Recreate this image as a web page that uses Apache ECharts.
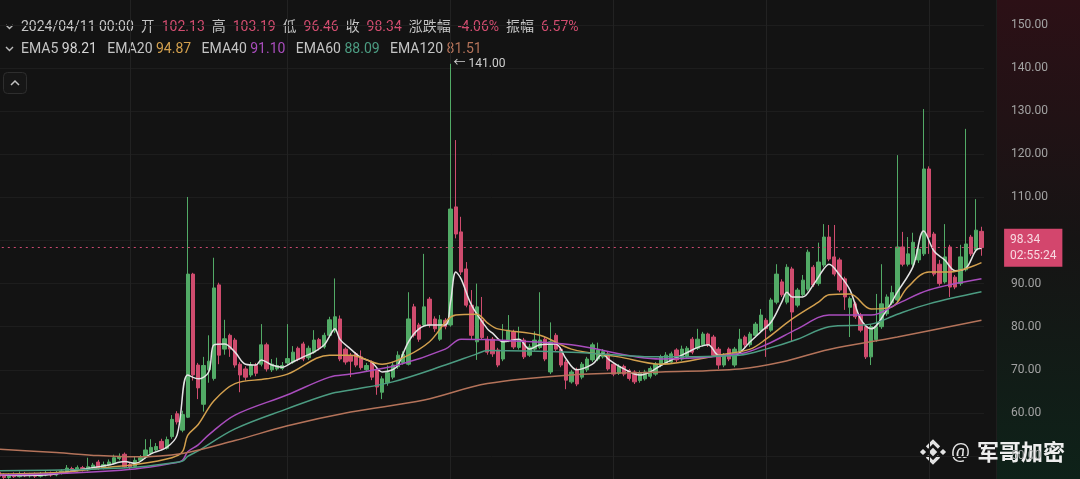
<!DOCTYPE html>
<html><head><meta charset="utf-8">
<script src="https://cdn.jsdelivr.net/npm/echarts@6/dist/echarts.min.js"></script>
<style>html,body{margin:0;padding:0;background:#131313;}#c{width:1080px;height:479px;}</style>
</head><body><div id="c"></div>
<script>
// ---------- DATA ----------
const startDate = [2023, 10, 7];          // first daily candle (y, m, d)
// [open, close, low, high]
const candles = [
[46.2,45.3,44.8,46.6],[45.6,45.0,44.6,46.0],[45.0,45.6,44.7,46.0],[45.7,45.2,44.9,46.2],[45.2,45.9,45.0,46.4],
[45.9,45.4,45.1,46.3],[45.4,45.8,45.0,46.1],[45.8,45.3,44.9,46.2],[45.3,45.7,45.0,46.3],[45.6,46.0,45.3,46.5],
[46.0,45.6,45.2,46.4],[45.6,46.1,45.3,46.5],[46.0,46.5,45.7,46.9],[46.4,47.2,46.2,47.9],[47.1,46.6,46.2,47.5],
[46.6,47.3,46.4,47.8],[47.3,46.8,46.4,47.7],[46.8,47.5,46.5,49.6],[47.4,47.9,47.0,48.4],[48.6,47.1,46.8,49.1],
[47.2,48.0,46.9,48.7],[47.9,48.6,47.6,49.2],[48.3,49.6,48.0,50.3],[49.4,49.9,49.0,50.6],[50.4,47.5,47.2,50.8],
[48.0,47.3,46.9,48.6],[47.6,49.0,47.3,49.8],[49.0,49.6,48.6,50.2],[49.7,51.4,49.4,53.9],[50.6,52.0,50.2,53.9],
[51.4,52.2,51.0,53.0],[53.4,51.7,51.3,54.0],[51.8,53.8,51.5,54.5],[54.5,58.5,54.0,59.5],[59.8,57.9,57.3,60.4],
[56.0,59.6,55.5,60.5],[59.0,92.2,58.8,110.1],[92.2,68.8,67.5,92.5],[71.1,65.8,63.2,71.6],[62.0,71.0,60.3,73.0],
[70.0,72.0,67.0,78.0],[68.0,89.0,67.5,96.0],[89.7,73.4,71.3,90.2],[74.8,77.2,73.5,81.6],[78.0,74.8,73.0,78.4],
[76.9,71.1,70.5,77.4],[71.3,68.8,64.8,71.8],[70.2,68.3,67.5,70.8],[68.8,71.1,68.3,71.8],[71.0,69.2,68.5,71.6],
[71.3,75.8,70.8,80.6],[75.8,70.2,69.6,76.3],[70.0,71.3,69.5,72.5],[70.2,71.0,69.8,72.8],[70.3,71.0,69.9,71.8],
[71.6,72.6,71.2,80.6],[71.8,74.1,71.4,75.5],[75.0,72.4,72.0,75.4],[76.0,72.5,72.0,76.5],[72.8,75.0,72.3,75.6],
[74.1,76.9,73.7,79.2],[77.0,75.0,74.5,77.4],[75.3,78.0,74.9,78.6],[78.0,81.6,77.5,82.3],[79.0,82.3,78.5,91.2],
[81.8,72.5,72.0,82.6],[74.8,71.8,71.2,75.2],[73.3,72.0,68.3,73.9],[73.7,71.1,70.6,74.1],[73.0,70.5,70.0,74.5],
[70.0,71.0,69.5,71.6],[71.8,68.3,67.6,72.2],[70.0,66.0,64.2,70.4],[64.8,67.9,63.2,68.5],[67.0,69.3,66.3,71.0],
[68.3,71.1,67.8,71.7],[70.7,73.4,70.2,74.3],[71.7,73.6,71.2,74.3],[71.3,81.8,71.0,88.0],[84.6,78.0,77.5,85.3],
[80.4,77.1,76.5,80.9],[80.4,84.6,80.0,96.9],[86.4,80.4,79.8,86.9],[81.8,79.5,78.8,82.4],[77.1,81.6,76.7,82.7],
[81.5,80.0,79.4,82.0],[80.4,107.3,80.0,141.0],[107.8,101.5,100.5,123.3],[102.0,92.7,92.0,105.5],[93.4,85.0,84.5,95.0],
[85.0,78.0,77.0,88.5],[76.5,84.6,72.3,90.0],[81.5,77.5,77.0,86.9],[77.1,74.1,73.5,77.8],[77.1,73.7,73.0,77.6],
[74.6,71.1,70.6,75.1],[72.5,76.5,72.0,80.6],[76.9,79.2,76.4,82.7],[78.8,75.3,74.8,79.3],[75.2,77.0,74.7,80.0],
[76.9,73.0,72.5,77.4],[73.4,75.3,73.0,76.0],[74.8,76.9,74.4,78.9],[75.2,76.9,74.8,88.0],[77.1,72.5,72.0,77.6],
[69.5,76.5,69.0,81.0],[78.0,74.8,74.3,78.5],[74.8,71.1,70.6,75.3],[71.8,67.6,65.5,72.3],[67.2,69.5,66.8,70.0],
[70.0,66.7,66.2,70.5],[68.3,71.3,67.8,71.8],[70.0,72.5,69.5,73.0],[72.3,75.8,71.8,76.3],[72.5,74.6,72.0,76.3],
[73.0,74.2,72.6,74.8],[73.7,70.2,69.8,74.2],[71.3,69.0,68.5,71.8],[69.2,70.8,68.8,71.3],[70.8,69.0,68.5,71.2],
[69.8,68.0,67.5,70.2],[69.5,67.2,66.7,69.9],[67.5,69.3,67.0,69.8],[67.9,69.5,67.5,70.0],[68.5,70.3,68.0,70.8],
[69.0,71.3,68.6,71.8],[71.1,73.0,70.6,73.5],[71.6,73.4,71.2,74.1],[71.8,73.7,71.4,74.2],[74.6,72.3,71.8,75.0],
[72.5,74.8,72.1,75.6],[73.0,75.0,72.6,75.5],[77.1,74.1,73.6,77.6],[75.0,77.1,74.6,79.5],[75.8,78.3,75.4,78.8],
[78.3,75.8,75.3,78.6],[77.6,73.4,73.0,78.1],[74.8,71.1,70.2,75.3],[71.1,73.4,70.6,73.9],[74.8,72.5,72.0,75.2],
[71.1,74.8,70.6,75.3],[74.1,77.1,73.7,79.5],[77.6,75.8,75.3,78.0],[75.8,78.3,75.3,78.8],[78.0,80.6,77.5,81.1],
[79.0,82.7,78.6,84.1],[81.5,79.6,73.0,82.0],[79.2,86.2,78.8,86.7],[85.7,92.2,85.2,94.5],[90.4,87.4,86.9,91.0],
[85.7,93.8,85.2,94.5],[93.4,83.4,76.5,93.9],[85.0,88.5,84.5,89.0],[87.4,90.8,87.0,92.0],[88.7,97.3,88.2,97.9],
[93.8,89.7,89.2,94.3],[90.0,95.0,89.5,99.5],[94.3,100.8,93.8,103.8],[100.8,95.7,95.2,103.6],[96.2,92.2,91.7,103.6],
[95.5,88.5,88.0,96.0],[91.1,86.9,83.9,91.6],[84.5,86.5,77.6,87.0],[85.3,82.3,81.8,85.8],[82.7,79.2,78.7,83.2],
[80.0,73.0,72.5,80.5],[73.0,80.0,71.1,80.6],[77.0,80.0,76.5,87.6],[80.0,85.3,79.5,94.5],[83.0,86.9,82.5,87.5],
[85.5,87.9,85.0,89.5],[86.2,98.5,85.8,119.8],[98.5,94.5,94.0,102.0],[94.5,96.9,94.0,100.8],[94.5,99.6,94.0,101.8],
[95.5,98.0,94.8,98.8],[96.9,116.6,96.4,130.5],[116.6,100.8,96.9,117.2],[101.5,92.2,91.7,102.0],[94.5,90.0,89.5,95.5],
[90.4,96.2,90.0,103.8],[98.5,89.2,86.9,99.0],[91.5,89.2,88.7,92.0],[90.0,96.2,89.5,99.0],[93.2,99.2,92.8,125.9],
[100.8,96.9,96.4,101.3],[97.8,102.4,97.3,109.6],[102.13,98.34,96.46,103.19]
];
// EMA lines: [candle index, value]
const ema5 = [[0,45.6],[5,45.5],[10,45.7],[13,46.3],[17,47.1],[21,47.9],[24,48.7],[26,48.3],[29,50.5],[32,52.0],[34,54.9],
[36,68.8],[38,67.9],[40,69.5],[41,75.8],[43,76.0],[45,74.1],[47,71.3],[49,71.1],[50,72.3],[52,71.1],[54,70.6],[56,71.8],
[58,73.0],[60,74.1],[62,75.8],[63,77.8],[64,79.5],[65,77.0],[67,74.8],[69,72.8],[71,71.8],[73,69.5],[75,70.0],[76,71.1],
[78,76.5],[80,79.5],[82,80.4],[85,80.4],[86,85.7],[87,92.7],[88,91.1],[90,85.0],[93,79.5],[94,78.5],[96,76.5],[99,77.1],
[101,74.8],[103,75.8],[106,76.0],[108,72.5],[110,70.0],[113,71.3],[115,73.7],[116,72.5],[119,70.2],[122,68.8],[124,69.5],
[126,71.0],[130,73.4],[135,75.8],[137,73.4],[140,73.4],[143,76.5],[145,78.8],[147,81.1],[149,85.7],[150,88.0],[151,86.9],
[153,86.9],[155,89.7],[157,93.4],[158,94.5],[160,92.0],[162,88.5],[164,81.8],[166,79.5],[169,83.9],[171,88.0],[174,94.0],
[176,102.2],[178,97.5],[180,95.5],[182,93.0],[184,93.5],[186,97.8],[187,98.21]];
const ema20 = [[0,45.8],[13,46.3],[21,47.4],[26,48.0],[33,49.6],[35,51.0],[36,54.8],[38,57.3],[41,62.8],[45,66.8],[51,67.9],
[55,69.0],[63,73.4],[67,73.4],[73,71.3],[78,73.4],[82,76.5],[87,82.7],[91,82.9],[93,80.9],[95,79.5],[103,78.0],[109,74.8],
[118,73.0],[126,71.3],[137,73.4],[143,74.8],[146,77.1],[151,81.8],[156,85.7],[158,87.4],[162,87.6],[166,84.1],[170,84.6],
[173,89.2],[177,92.7],[181,92.7],[187,94.87]];
const ema40 = [[0,45.6],[13,46.0],[26,47.0],[33,48.3],[35,49.0],[36,51.0],[38,52.6],[40,54.9],[45,59.5],[55,64.2],[63,68.3],
[67,69.0],[76,71.1],[85,74.8],[88,77.1],[93,77.0],[95,76.9],[109,75.8],[126,72.5],[141,73.7],[146,75.8],[152,79.5],
[158,82.7],[166,82.7],[171,85.3],[177,88.5],[187,91.10]];
const ema60 = [[0,46.6],[13,46.8],[26,47.4],[33,48.4],[35,48.8],[36,49.9],[38,51.2],[45,56.3],[55,61.0],[63,64.4],[67,65.3],
[75,67.2],[85,71.1],[91,73.7],[93,74.5],[109,74.1],[126,73.0],[141,73.4],[146,74.8],[152,77.1],[158,80.0],[166,80.6],
[171,82.9],[177,85.3],[187,88.09]];
const ema120 = [[0,51.6],[11,50.8],[19,50.1],[26,49.8],[35,50.6],[45,53.6],[55,57.0],[67,60.2],[81,63.0],[93,66.8],[109,68.8],
[126,69.5],[141,70.2],[149,71.8],[158,74.7],[171,77.6],[187,81.51]];
const headerDate = '2024/04/11 00:00';
const headerLabels = ['开', '高', '低', '收', '涨跌幅', '振幅'];
const headerValues = ['102.13', '103.19', '96.46', '98.34', '-4.06%', '6.57%'];
const emaNames = ['EMA5', 'EMA20', 'EMA40', 'EMA60', 'EMA120'];
const countdown = '02:55:24';
const watermark = '军哥加密';

// ---------- BUILD ----------
const pad = n => (n < 10 ? '0' : '') + n;
const dates = [];
{
  const d = new Date(Date.UTC(startDate[0], startDate[1] - 1, startDate[2]));
  for (let k = 0; k < candles.length; k++) {
    dates.push(d.getUTCFullYear() + '/' + pad(d.getUTCMonth() + 1) + '/' + pad(d.getUTCDate()));
    d.setUTCDate(d.getUTCDate() + 1);
  }
}
const monthStarts = dates.filter(s => s.endsWith('/01'));
const emaSets = [ema5, ema20, ema40, ema60, ema120];
const emaColors = ['#e4e4e4', '#d3a04e', '#a94dbd', '#4c9c82', '#b4735a'];
const emaValColors = ['#d6d6d6', '#d3a04e', '#a94dbd', '#4c9c82', '#b4735a'];
const lastClose = candles[candles.length - 1][1];
const UP = '#52aa66', DOWN = '#cf4c6e';
const FONT = 'Roboto, "Noto Sans CJK SC", sans-serif';
const HF = 14;

const chart = echarts.init(document.getElementById('c'), null, { renderer: 'canvas' });

let line1 = '{l|' + headerDate + '}';
headerLabels.forEach((l, k) => { line1 += '{l|  ' + l + '  }{v|' + headerValues[k] + '}'; });
let line2 = '';
emaNames.forEach((n, k) => {
  const last = emaSets[k][emaSets[k].length - 1][1];
  line2 += (k ? '{l|   ' : '{l|') + n + ' }{e' + k + '|' + last.toFixed(2) + '}';
});
const rich2 = { l: { fill: '#c4c4c4', fontSize: HF, fontFamily: FONT } };
emaValColors.forEach((c, k) => { rich2['e' + k] = { fill: c, fontSize: HF, fontFamily: FONT }; });

const series = [
  {
    type: 'line', data: [], silent: true, z: 1,
    markLine: {
      silent: true, symbol: ['none', 'none'], animation: false, z: 1,
      label: { show: false },
      lineStyle: { color: '#222222', type: 'solid', width: 1 },
      data: monthStarts.map(s => ({ xAxis: s }))
    }
  },
  {
    type: 'candlestick', data: candles, barWidth: '72%', z: 2,
    itemStyle: { color: UP, color0: DOWN, borderColor: UP, borderColor0: DOWN, borderWidth: 1 },
    markPoint: {
      symbol: 'circle', symbolSize: 0, animation: false,
      data: [{ type: 'max', valueDim: 'highest' }],
      label: { show: true, position: 'right', distance: 3, color: '#cfcfcf', fontSize: 12, fontFamily: FONT,
        formatter: p => '← ' + Number(p.value).toFixed(2) }
    },
    markLine: {
      silent: true, symbol: ['none', 'none'], animation: false,
      data: [{
        yAxis: lastClose,
        lineStyle: { color: '#cc4870', type: [2, 4], width: 1 },
        label: {
          show: true, position: 'end', distance: 20,
          formatter: lastClose.toFixed(2) + '\n' + countdown,
          backgroundColor: '#d3466d', color: '#f8d9e1', padding: [3, 6, 3, 6],
          fontSize: 12, lineHeight: 16, fontFamily: FONT, align: 'left'
        }
      }]
    }
  }
];
emaSets.forEach((set, k) => {
  series.push({
    type: 'line', name: emaNames[k], data: set, smooth: 0.35, showSymbol: false, z: 3,
    lineStyle: { color: emaColors[k], width: 1.5 }, silent: true
  });
});

chart.setOption({
  backgroundColor: '#131313',
  animation: false,
  grid: { left: -4.2, right: 95.9, top: -18.1, bottom: -20.1, outerBoundsMode: 'none', containLabel: false },
  xAxis: {
    type: 'category', data: dates, boundaryGap: true,
    axisLine: { show: false }, axisTick: { show: false }, axisLabel: { show: false }, splitLine: { show: false }
  },
  yAxis: {
    type: 'value', position: 'right', min: 40, max: 160, interval: 10, scale: false,
    axisLine: { show: false }, axisTick: { show: false },
    axisLabel: { color: '#a2a2a2', fontSize: 12, margin: 27, fontFamily: FONT, showMinLabel: false, showMaxLabel: false,
      formatter: v => v.toFixed(2) },
    splitLine: { lineStyle: { color: '#1d1d1d', width: 1 } }
  },
  series: series,
  graphic: [
    { type: 'rect', z: -1, silent: true, shape: { x: 996, y: 0, width: 84, height: 479 },
      style: { fill: new echarts.graphic.LinearGradient(0, 0, 0, 1, [
        { offset: 0, color: '#2c1016' }, { offset: 0.5, color: '#161414' }, { offset: 1, color: '#0e2219' }]) } },
    { type: 'rect', z: -1, silent: true, shape: { x: 996, y: 0, width: 1, height: 479 }, style: { fill: '#1e1e1e' } },
    { type: 'polyline', silent: true, shape: { points: [[6, 25], [9.5, 28.5], [13, 25]] }, style: { stroke: '#bdbdbd', lineWidth: 1.4, fill: null } },
    { type: 'polyline', silent: true, shape: { points: [[6, 47], [9.5, 50.5], [13, 47]] }, style: { stroke: '#bdbdbd', lineWidth: 1.4, fill: null } },
    { type: 'text', silent: true, x: 21, y: 27, style: { text: line1, verticalAlign: 'middle', rich: {
        l: { fill: '#c4c4c4', fontSize: HF, fontFamily: FONT },
        v: { fill: '#d24d70', fontSize: HF, fontFamily: FONT } } } },
    { type: 'text', silent: true, x: 21, y: 49.5, style: { text: line2, verticalAlign: 'middle', rich: rich2 } },
    { type: 'rect', silent: true, shape: { x: 3.5, y: 72.5, width: 23, height: 21, r: 4 }, style: { fill: '#161616', stroke: '#2e2e2e', lineWidth: 1 } },
    { type: 'polyline', silent: true, shape: { points: [[11, 85], [15, 81], [19, 85]] }, style: { stroke: '#c4c4c4', lineWidth: 1.5, fill: null } },
    // watermark
    { type: 'group', silent: true, z: 10, children: [
      { type: 'rect', shape: { x: -3, y: -3, width: 6, height: 6 }, x: 933, y: 452, rotation: Math.PI / 4, style: { fill: '#e2e2e2' } },
      { type: 'rect', shape: { x: -2.2, y: -2.2, width: 4.4, height: 4.4 }, x: 923, y: 452, rotation: Math.PI / 4, style: { fill: '#e2e2e2' } },
      { type: 'rect', shape: { x: -2.2, y: -2.2, width: 4.4, height: 4.4 }, x: 943, y: 452, rotation: Math.PI / 4, style: { fill: '#e2e2e2' } },
      { type: 'polyline', shape: { points: [[927, 447.5], [933, 441.5], [939, 447.5]] }, style: { stroke: '#e2e2e2', lineWidth: 3.2, fill: null } },
      { type: 'polyline', shape: { points: [[927, 456.5], [933, 462.5], [939, 456.5]] }, style: { stroke: '#e2e2e2', lineWidth: 3.2, fill: null } },
      { type: 'text', x: 951, y: 453, style: { text: '@', fill: '#e6e6e6', fontSize: 21, fontFamily: FONT, verticalAlign: 'middle' } },
      { type: 'text', x: 977, y: 452, style: { text: watermark, fill: '#eeeeee', fontSize: 22, fontFamily: '"Noto Sans CJK SC", sans-serif', fontWeight: 'bold', verticalAlign: 'middle' } }
    ] }
  ]
});
</script>
</body></html>
